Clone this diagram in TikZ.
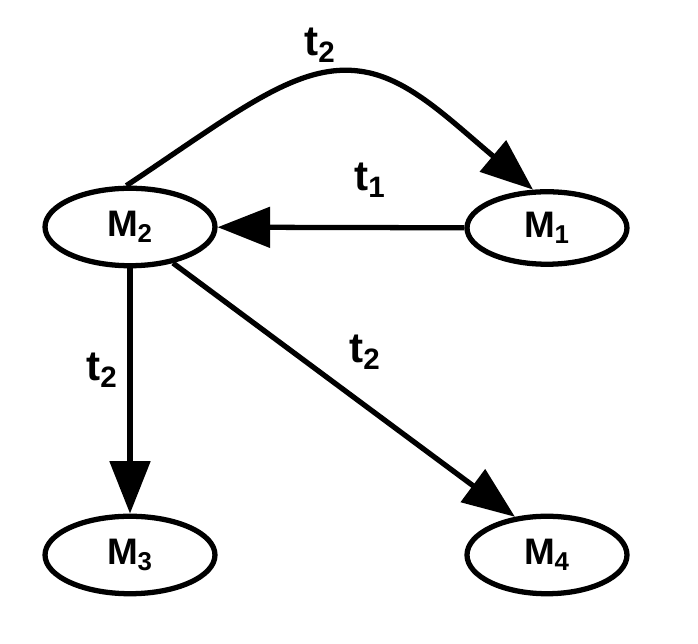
\documentclass[tikz,border=0pt]{standalone}
\usepackage{fontspec}
\setmainfont{Liberation Sans}
\usetikzlibrary{arrows.meta,shapes.geometric}
\begin{document}
\begin{tikzpicture}[x=0.02cm, y=-0.02cm,
    state/.style={draw, ellipse, line width=3pt, minimum width=3.4cm, minimum height=1.55cm, font=\bfseries\fontsize{21}{24}\selectfont},
    trans/.style={line width=3pt, -{Triangle[length=1.05cm, width=0.8cm]}},
    lbl/.style={font=\bfseries\fontsize{24}{28}\selectfont}]
    \useasboundingbox (0,0) rectangle (698,644);
    % States
    \node[state] (m2) at (130,227) {M\textsubscript{2}};
    \node[state, minimum width=3.2cm, minimum height=1.45cm] (m1) at (547,228) {M\textsubscript{1}};
    \node[state] (m3) at (130,555) {M\textsubscript{3}};
    \node[state, minimum width=3.2cm] (m4) at (547,555) {M\textsubscript{4}};
    % Transitions
    \draw[trans] (m2.95) .. controls (240,110) and (300,60) .. (365,72) .. controls (410,80) and (450,120) .. (m1.110);
    \draw[trans] (m1) -- (m2);
    \draw[trans] (m2) -- (m3);
    \draw[trans] (m2.-40) -- (m4.130);
    % Labels
    \node[lbl] (l1) at (320,45) {t\textsubscript{2}};
    \node[lbl] (l2) at (370,180) {t\textsubscript{1}};
    \node[lbl] (l3) at (102,370) {t\textsubscript{2}};
    \node[lbl] (l4) at (365,352) {t\textsubscript{2}};
\end{tikzpicture}
\end{document}
